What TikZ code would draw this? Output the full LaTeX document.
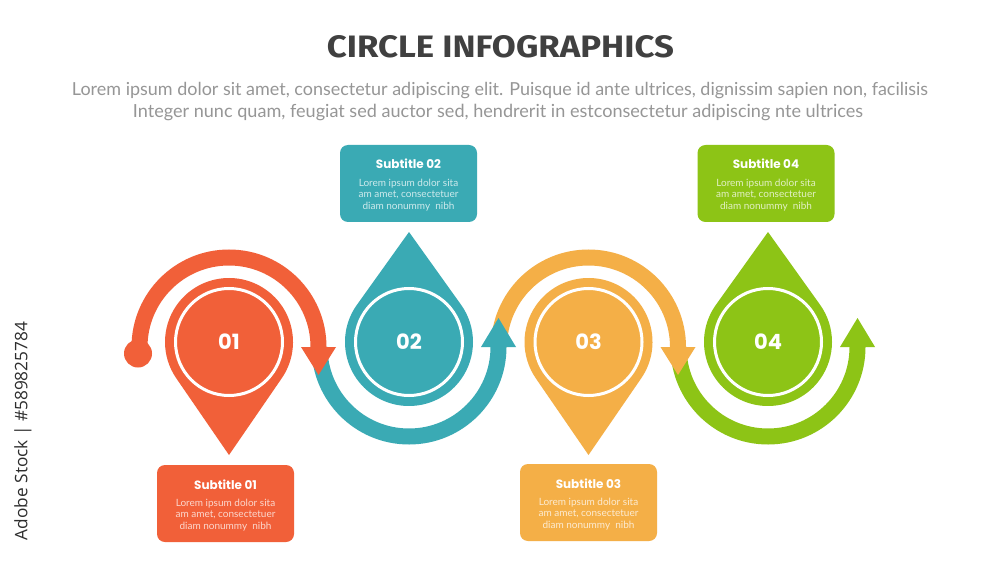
\documentclass[tikz,border=0pt]{standalone}
\usepackage{graphicx}
\usepackage{fontspec}
\setmainfont{Lato}
\newfontfamily\popfont{Poppins}
\newfontfamily\titlefont{Fira Sans}
\newfontfamily\wmfont{Open Sans}
\usetikzlibrary{calc}
\definecolor{cOr}{HTML}{F16039}
\definecolor{cTe}{HTML}{3AAAB4}
\definecolor{cYe}{HTML}{F4AF47}
\definecolor{cGr}{HTML}{8DC416}
\definecolor{titlegray}{HTML}{404040}
\definecolor{loremgray}{HTML}{969696}
\definecolor{wmgray}{HTML}{2E2E2E}
\tikzset{
  band/.style={line width=16pt},
  ring/.style={draw=white, line width=3pt},
  numtext/.style={text=white, inner sep=0, font=\popfont\bfseries\fontsize{21}{24}\selectfont},
  boxshape/.style={rounded corners=8pt, minimum width=137pt, minimum height=77pt, inner sep=0},
  boxtitle/.style={text=white, anchor=base, inner sep=0, font=\popfont\bfseries\fontsize{12}{14}\selectfont},
  boxbody/.style={text=white, text opacity=0.75, inner sep=0, align=center, font=\fontsize{10}{11.5}\selectfont},
}
\newcommand\infobox[5]{%
  \node[boxshape, fill=#4] (#1) at (#2,#3-38.5) {};
  \node[boxtitle] (#1t) at (#2,#3-24) {#5};
  \node[boxbody] (#1b) at (#2,#3-50) {Lorem ipsum dolor sita\\am amet, consectetuer\\diam nonummy\ \ nibh};
}
\begin{document}
\begin{tikzpicture}[x=1pt,y=1pt]
\fill[white] (0,0) rectangle (1000,563);
\useasboundingbox (0,0) rectangle (1000,563);

% heading
\node[anchor=base, inner sep=0, text=titlegray] (title) at (500.5,505)
  {\titlefont\bfseries\resizebox{347pt}{22pt}{CIRCLE INFOGRAPHICS}};
\node[anchor=base, inner sep=0, text=loremgray] (lead1) at (500,467)
  {\resizebox{856pt}{!}{\fontsize{17}{20}\selectfont Lorem ipsum dolor sit amet, consectetur adipiscing elit. Puisque id ante ultrices, dignissim sapien non, facilisis}};
\node[anchor=base, inner sep=0, text=loremgray] (lead2) at (498,445)
  {\resizebox{730pt}{!}{\fontsize{17}{20}\selectfont Integer nunc quam, feugiat sed auctor sed, hendrerit in estconsectetur adipiscing nte ultrices}};

% watermark side text
\node[rotate=90, inner sep=0, text=wmgray] (wm) at (23,132)
  {\resizebox{218pt}{!}{\wmfont\fontsize{15}{18}\selectfont Adobe Stock | \#589825784}};

% centres
\coordinate (c1) at (229,221);
\coordinate (c2) at (409,221);
\coordinate (c3) at (588.5,221);
\coordinate (c4) at (768,221);

% arcs (drawn from back to front)
% green, below, arrow up
\draw[band, cGr] (678.5,216) arc[start angle=180, end angle=360, radius=89.5];
\fill[cGr] (840,216) -- (875,216) -- (857.5,245) -- cycle;
% yellow, above, arrow down
\draw[band, cYe] (499,216) arc[start angle=180, end angle=0, radius=89.5];
\fill[cYe] (660.5,216) -- (695.5,216) -- (678,188) -- cycle;
% teal, below, arrow up
\draw[band, cTe] (319.5,216) arc[start angle=180, end angle=360, radius=89.5];
\fill[cTe] (481,216) -- (516,216) -- (498.5,245) -- cycle;
% orange, above, arrow down, ball at start
\draw[band, cOr] (139.5,216) arc[start angle=180, end angle=0, radius=89.5];
\fill[cOr] (301,216) -- (336,216) -- (318.5,188) -- cycle;
\fill[cOr] (138,209.5) circle (14);

% pins and drops
\fill[cOr] (229,108) -- ([shift={(-34.5:64)}]c1) arc[start angle=-34.5, end angle=214.5, radius=64] -- cycle;
\fill[cTe] (409,331) -- ([shift={(144.4:64)}]c2) arc[start angle=144.4, end angle=395.6, radius=64] -- cycle;
\fill[cYe] (588.5,108) -- ([shift={(-34.5:64)}]c3) arc[start angle=-34.5, end angle=214.5, radius=64] -- cycle;
\fill[cGr] (768,331) -- ([shift={(144.4:64)}]c4) arc[start angle=144.4, end angle=395.6, radius=64] -- cycle;

\draw[ring] (c1) circle (53.5);
\draw[ring] (c2) circle (53.5);
\draw[ring] (c3) circle (53.5);
\draw[ring] (c4) circle (53.5);

\node[numtext] (n1) at (c1) {01};
\node[numtext] (n2) at (c2) {02};
\node[numtext] (n3) at (c3) {03};
\node[numtext] (n4) at (c4) {04};

% boxes
\infobox{b1}{225.5}{98}{cOr}{Subtitle 01}
\infobox{b2}{408.5}{418}{cTe}{Subtitle 02}
\infobox{b3}{588.5}{99}{cYe}{Subtitle 03}
\infobox{b4}{766}{418}{cGr}{Subtitle 04}
\end{tikzpicture}
\end{document}
